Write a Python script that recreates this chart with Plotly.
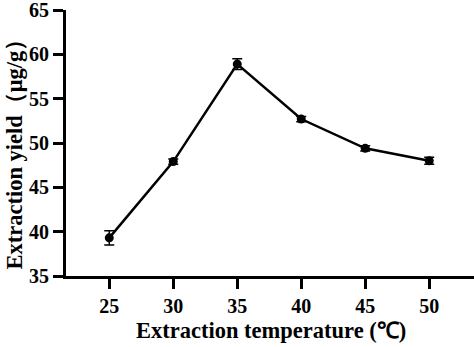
import plotly.graph_objects as go

temperature = [25, 30, 35, 40, 45, 50]
yield_vals = [39.3, 47.9, 58.9, 52.7, 49.4, 48.0]
yield_err = [0.8, 0.3, 0.6, 0.3, 0.3, 0.4]
x_ticks = [25, 30, 35, 40, 45, 50]
y_ticks = [35, 40, 45, 50, 55, 60, 65]

FONT = "Liberation Serif"

fig = go.Figure()
fig.add_trace(go.Scatter(
    x=temperature, y=yield_vals,
    mode="lines+markers",
    line=dict(color="black", width=2.5),
    marker=dict(color="black", size=9, symbol="circle"),
    error_y=dict(type="data", array=yield_err, visible=True,
                 color="black", thickness=1.5, width=5),
    showlegend=False,
))

fig.update_layout(
    width=474, height=347,
    margin=dict(l=66, r=0, t=10, b=71),
    paper_bgcolor="white", plot_bgcolor="white",
    font=dict(family=FONT, color="black"),
    xaxis=dict(
        range=[21.62, 53.5], tickvals=x_ticks,
        showline=True, linecolor="black", linewidth=2.8,
        ticks="outside", ticklen=10, tickwidth=2.8, tickcolor="black",
        tickfont=dict(family=FONT, size=20, color="black", weight="bold"),
        ticklabeloverflow="allow", automargin=False,
        showgrid=False, zeroline=False,
    ),
    yaxis=dict(
        range=[35, 65], tickvals=y_ticks,
        showline=True, linecolor="black", linewidth=2.8,
        ticks="outside", ticklen=10, tickwidth=2.8, tickcolor="black",
        tickfont=dict(family=FONT, size=20, color="black", weight="bold"),
        ticklabeloverflow="allow", automargin=False,
        showgrid=False, zeroline=False,
    ),
    annotations=[
        dict(text="<b>Extraction temperature (℃)</b>", xref="paper", yref="paper",
             x=0.502, y=-0.205, showarrow=False,
             font=dict(family=FONT, size=22.5, color="black"),
             xanchor="center", yanchor="middle"),
        dict(text="<b>Extraction yield（μg/g）</b>", xref="paper", yref="paper",
             x=-0.127, y=0.48, showarrow=False, textangle=-90,
             font=dict(family=FONT, size=22.5, color="black"),
             xanchor="center", yanchor="middle"),
    ],
)

fig.write_html("out.html")
